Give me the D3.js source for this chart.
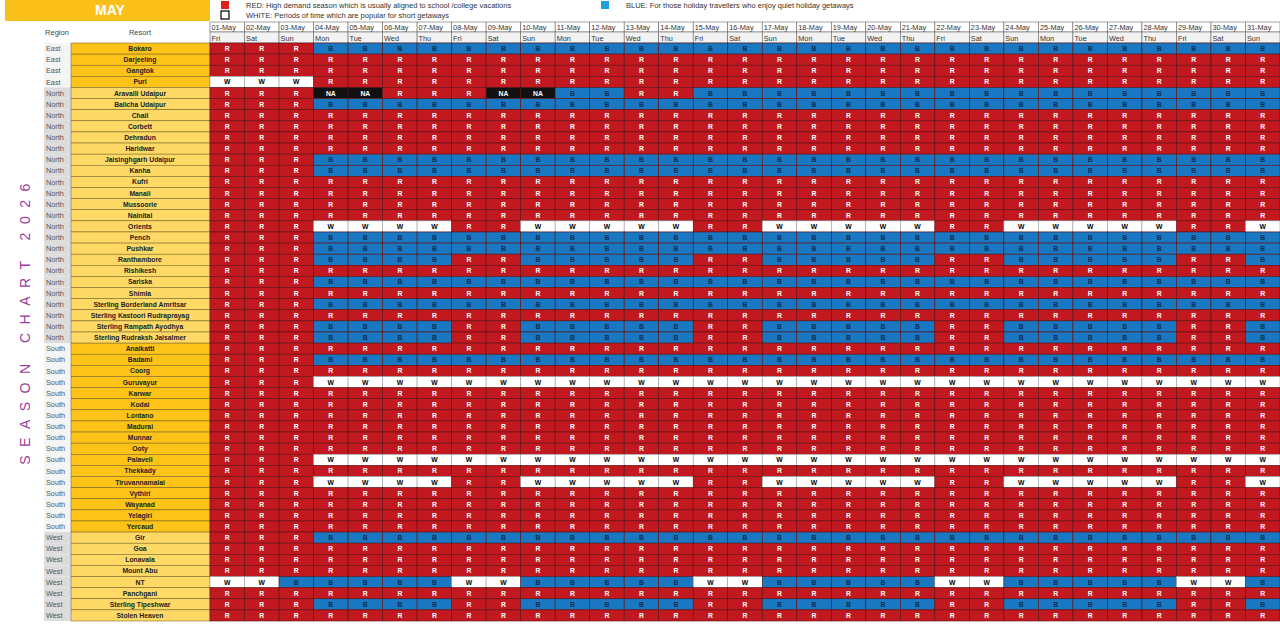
<!DOCTYPE html>
<html>
<head>
<meta charset="utf-8">
<script src="https://cdn.jsdelivr.net/npm/d3@7"></script>
<style>
  body { margin: 0; background: #fff; }
  svg { font-family: "Liberation Sans", Arial, sans-serif; }
</style>
</head>
<body>
<script>
// ================================
// DATA
// ================================
var days = ["01-May","02-May","03-May","04-May","05-May","06-May","07-May","08-May","09-May","10-May",
    "11-May","12-May","13-May","14-May","15-May","16-May","17-May","18-May","19-May","20-May",
    "21-May","22-May","23-May","24-May","25-May","26-May","27-May","28-May","29-May","30-May","31-May"];

var weekdays = ["Fri","Sat","Sun","Mon","Tue","Wed","Thu","Fri","Sat","Sun",
    "Mon","Tue","Wed","Thu","Fri","Sat","Sun","Mon","Tue","Wed",
    "Thu","Fri","Sat","Sun","Mon","Tue","Wed","Thu","Fri","Sat","Sun"];

var regions = ["East","East","East","East",
    "North","North","North","North","North","North","North","North","North","North","North","North",
    "North","North","North","North","North","North","North","North","North","North","North",
    "South","South","South","South","South","South","South","South","South","South","South","South",
    "South","South","South","South","South",
    "West","West","West","West","West","West","West","West"];

var resorts = ["Bokaro","Darjeeling","Gangtok","Puri",
    "Aravalli Udaipur","Balicha Udaipur","Chail","Corbett","Dehradun","Haridwar","Jaisinghgarh Udaipur",
    "Kanha","Kufri","Manali","Mussoorie","Nainital","Orients","Pench","Pushkar","Ranthambore","Rishikesh",
    "Sariska","Shimla","Sterling Borderland Amritsar","Sterling Kastoori Rudraprayag",
    "Sterling Rampath Ayodhya","Sterling Rudraksh Jaisalmer",
    "Anaikatti","Badami","Coorg","Guruvayur","Karwar","Kodai","Lontano","Madurai","Munnar","Ooty",
    "Palaveli","Thekkady","Tiruvannamalai","Vythiri","Wayanad","Yelagiri","Yercaud",
    "Gir","Goa","Lonavala","Mount Abu","NT","Panchgani","Sterling Tipeshwar","Stolen Heaven"];

// one letter per day: R red, B blue, W white, N = NA
var seasonRows = [
    "RRRBBBBBBBBBBBBBBBBBBBBBBBBBBBB", // Bokaro
    "RRRRRRRRRRRRRRRRRRRRRRRRRRRRRRR", // Darjeeling
    "RRRRRRRRRRRRRRRRRRRRRRRRRRRRRRR", // Gangtok
    "WWWRRRRRRRRRRRRRRRRRRRRRRRRRRRR", // Puri
    "RRRNNRRRNNBBRRBBBBBBBBBBBBBBBBB", // Aravalli Udaipur
    "RRRBBBBBBBBBBBBBBBBBBBBBBBBBBBB", // Balicha Udaipur
    "RRRRRRRRRRRRRRRRRRRRRRRRRRRRRRR", // Chail
    "RRRRRRRRRRRRRRRRRRRRRRRRRRRRRRR", // Corbett
    "RRRRRRRRRRRRRRRRRRRRRRRRRRRRRRR", // Dehradun
    "RRRRRRRRRRRRRRRRRRRRRRRRRRRRRRR", // Haridwar
    "RRRBBBBBBBBBBBBBBBBBBBBBBBBBBBB", // Jaisinghgarh Udaipur
    "RRRBBBBBBBBBBBBBBBBBBBBBBBBBBBB", // Kanha
    "RRRRRRRRRRRRRRRRRRRRRRRRRRRRRRR", // Kufri
    "RRRRRRRRRRRRRRRRRRRRRRRRRRRRRRR", // Manali
    "RRRRRRRRRRRRRRRRRRRRRRRRRRRRRRR", // Mussoorie
    "RRRRRRRRRRRRRRRRRRRRRRRRRRRRRRR", // Nainital
    "RRRWWWWRRWWWWWRRWWWWWRRWWWWWRRW", // Orients
    "RRRBBBBBBBBBBBBBBBBBBBBBBBBBBBB", // Pench
    "RRRBBBBBBBBBBBBBBBBBBBBBBBBBBBB", // Pushkar
    "RRRBBBBRRBBBBBRRBBBBBRRBBBBBRRB", // Ranthambore
    "RRRRRRRRRRRRRRRRRRRRRRRRRRRRRRR", // Rishikesh
    "RRRBBBBBBBBBBBBBBBBBBBBBBBBBBBB", // Sariska
    "RRRRRRRRRRRRRRRRRRRRRRRRRRRRRRR", // Shimla
    "RRRBBBBBBBBBBBBBBBBBBBBBBBBBBBB", // Borderland Amritsar
    "RRRRRRRRRRRRRRRRRRRRRRRRRRRRRRR", // Kastoori Rudraprayag
    "RRRBBBBRRBBBBBRRBBBBBRRBBBBBRRB", // Rampath Ayodhya
    "RRRBBBBRRBBBBBRRBBBBBRRBBBBBRRB", // Rudraksh Jaisalmer
    "RRRRRRRRRRRRRRRRRRRRRRRRRRRRRRR", // Anaikatti
    "RRRBBBBBBBBBBBBBBBBBBBBBBBBBBBB", // Badami
    "RRRRRRRRRRRRRRRRRRRRRRRRRRRRRRR", // Coorg
    "RRRWWWWWWWWWWWWWWWWWWWWWWWWWWWW", // Guruvayur
    "RRRRRRRRRRRRRRRRRRRRRRRRRRRRRRR", // Karwar
    "RRRRRRRRRRRRRRRRRRRRRRRRRRRRRRR", // Kodai
    "RRRRRRRRRRRRRRRRRRRRRRRRRRRRRRR", // Lontano
    "RRRRRRRRRRRRRRRRRRRRRRRRRRRRRRR", // Madurai
    "RRRRRRRRRRRRRRRRRRRRRRRRRRRRRRR", // Munnar
    "RRRRRRRRRRRRRRRRRRRRRRRRRRRRRRR", // Ooty
    "RRRWWWWWWWWWWWWWWWWWWWWWWWWWWWW", // Palaveli
    "RRRRRRRRRRRRRRRRRRRRRRRRRRRRRRR", // Thekkady
    "RRRWWWWRRWWWWWRRWWWWWRRWWWWWRRW", // Tiruvannamalai
    "RRRRRRRRRRRRRRRRRRRRRRRRRRRRRRR", // Vythiri
    "RRRRRRRRRRRRRRRRRRRRRRRRRRRRRRR", // Wayanad
    "RRRRRRRRRRRRRRRRRRRRRRRRRRRRRRR", // Yelagiri
    "RRRRRRRRRRRRRRRRRRRRRRRRRRRRRRR", // Yercaud
    "RRRBBBBBBBBBBBBBBBBBBBBBBBBBBBB", // Gir
    "RRRRRRRRRRRRRRRRRRRRRRRRRRRRRRR", // Goa
    "RRRRRRRRRRRRRRRRRRRRRRRRRRRRRRR", // Lonavala
    "RRRRRRRRRRRRRRRRRRRRRRRRRRRRRRR", // Mount Abu
    "WWBBBBBWWBBBBBWWBBBBBWWBBBBBWWB", // NT
    "RRRRRRRRRRRRRRRRRRRRRRRRRRRRRRR", // Panchgani
    "RRRBBBBRRBBBBBRRBBBBBRRBBBBBRRB", // Sterling Tipeshwar
    "RRRRRRRRRRRRRRRRRRRRRRRRRRRRRRR"  // Stolen Heaven
];

var fills = { R: "#c1191f", B: "#1a78c2", W: "#ffffff", N: "#111111" };
var labels = { R: "R", B: "B", W: "W", N: "NA" };
var textColors = { R: "#ffffff", B: "#0d2f55", W: "#000000", N: "#ffffff" };

// ================================
// SVG
// ================================
var width = 1280, height = 640;

var svg = d3.select("body").append("svg")
    .attr("width", width)
    .attr("height", height);

var x = d3.scaleBand().domain(days).range([210, 1280]);
var y = d3.scaleBand().domain(d3.range(resorts.length)).range([43, 621]);
var rh = y.bandwidth();

// title box
svg.append("rect").attr("x", 5).attr("y", 0).attr("width", 205).attr("height", 21).attr("fill", "#fbbf1a");
svg.append("text").attr("x", 110).attr("y", 15).attr("text-anchor", "middle")
    .attr("fill", "#fff").attr("font-size", 14).attr("font-weight", "bold").text("MAY");

// legend
var legend = [
    { x: 221, y: 1, c: "#e31b1b", s: "none", t: "RED: High demand season which is usually aligned to school /college vacations" },
    { x: 221, y: 11, c: "#fff", s: "#000", t: "WHITE: Periods of time which are popular for short getaways" },
    { x: 601, y: 1, c: "#22a0dc", s: "none", t: "BLUE: For those holiday travellers who enjoy quiet holiday getaways" }
];
legend.forEach(function(d){
    svg.append("rect").attr("x", d.x).attr("y", d.y).attr("width", 8).attr("height", 8)
        .attr("fill", d.c).attr("stroke", d.s).attr("stroke-width", 1.2);
    svg.append("text").attr("x", d.x + 25).attr("y", d.y + 7).attr("font-size", 7.5)
        .attr("fill", "#333").text(d.t);
});

// vertical title
svg.append("text")
    .attr("transform", "translate(30,320) rotate(-90)")
    .attr("text-anchor", "middle")
    .attr("fill", "#9b3c9b")
    .attr("font-size", 14)
    .attr("letter-spacing", 8.5)
    .text("SEASON CHART 2026");

// header
svg.append("text").attr("x", 57).attr("y", 35).attr("text-anchor", "middle").attr("font-size", 7.5).attr("fill", "#444").text("Region");
svg.append("text").attr("x", 140).attr("y", 35).attr("text-anchor", "middle").attr("font-size", 7.5).attr("fill", "#444").text("Resort");

var head = svg.append("g");
head.selectAll(".dayhead").data(days).enter().append("rect")
    .attr("x", function(d){ return x(d); }).attr("y", 22)
    .attr("width", x.bandwidth()).attr("height", 10)
    .attr("fill", "#fff").attr("stroke", "#666").attr("stroke-width", 0.6);
head.selectAll(".wdhead").data(days).enter().append("rect")
    .attr("x", function(d){ return x(d); }).attr("y", 32)
    .attr("width", x.bandwidth()).attr("height", 11)
    .attr("fill", "#f2f2f2").attr("stroke", "#666").attr("stroke-width", 0.6);
head.selectAll(".daytext").data(days).enter().append("text")
    .attr("x", function(d){ return x(d) + 1.5; }).attr("y", 30)
    .attr("font-size", 7.3).attr("fill", "#333").text(function(d){ return d; });
head.selectAll(".wdtext").data(weekdays).enter().append("text")
    .attr("x", function(d, i){ return x(days[i]) + 1.5; }).attr("y", 41)
    .attr("font-size", 7.3).attr("fill", "#333").text(function(d){ return d; });

// region + resort columns
var rows = svg.selectAll(".row").data(resorts).enter().append("g").attr("class", "row");

rows.append("rect")
    .attr("x", 44).attr("y", function(d, i){ return y(i); })
    .attr("width", 27).attr("height", rh)
    .attr("fill", function(d, i){ return (regions[i] === "North" || regions[i] === "West") ? "#dcdcdc" : "#f4f4f4"; });
rows.append("text")
    .attr("x", 46).attr("y", function(d, i){ return y(i) + rh / 2 + 2.6; })
    .attr("font-size", 7.3).attr("fill", "#555").text(function(d, i){ return regions[i]; });

rows.append("rect")
    .attr("x", 71).attr("y", function(d, i){ return y(i); })
    .attr("width", 139).attr("height", rh)
    .attr("fill", function(d, i){ return (regions[i] === "North" || regions[i] === "West") ? "#ffd966" : "#fec319"; })
    .attr("stroke", "#6b5a1e").attr("stroke-width", 0.5);
rows.append("text")
    .attr("x", 140).attr("y", function(d, i){ return y(i) + rh / 2 + 2.5; })
    .attr("text-anchor", "middle").attr("font-size", 6.8).attr("font-weight", "bold")
    .attr("fill", "#222").text(function(d){ return d; });

// cells
var cells = [];
seasonRows.forEach(function(s, i){
    s.split("").forEach(function(c, j){
        cells.push({ row: i, day: days[j], code: c });
    });
});

svg.selectAll(".cell").data(cells).enter().append("rect")
    .attr("class", "cell")
    .attr("x", function(d){ return x(d.day); })
    .attr("y", function(d){ return y(d.row); })
    .attr("width", x.bandwidth()).attr("height", rh)
    .attr("fill", function(d){ return fills[d.code]; })
    .attr("stroke", function(d){ return d.code === "W" ? "#999" : "#5a0f12"; })
    .attr("stroke-width", 0.6);

svg.selectAll(".celltext").data(cells).enter().append("text")
    .attr("x", function(d){ return x(d.day) + x.bandwidth() / 2; })
    .attr("y", function(d){ return y(d.row) + rh / 2 + 2.5; })
    .attr("text-anchor", "middle").attr("font-size", 6.8).attr("font-weight", "bold")
    .attr("fill", function(d){ return textColors[d.code]; })
    .text(function(d){ return labels[d.code]; });
</script>
</body>
</html>
